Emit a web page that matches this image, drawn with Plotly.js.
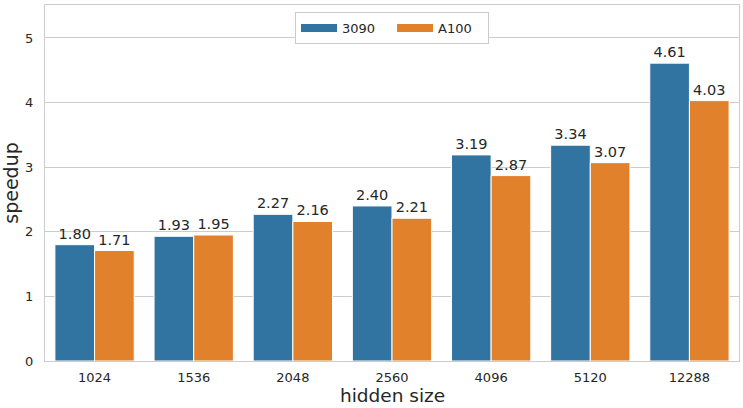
<!DOCTYPE html>
<html><head><meta charset="utf-8">
<script src="https://cdn.plot.ly/plotly-3.0.1.min.js"></script>
<style>html,body{margin:0;padding:0;background:#fff}#chart{width:743px;height:408px}</style>
</head><body><div id="chart"></div>
<script>
const categories = ["1024","1536","2048","2560","4096","5120","12288"];
const series3090 = [1.80,1.93,2.27,2.40,3.19,3.34,4.61];
const seriesA100 = [1.71,1.95,2.16,2.21,2.87,3.07,4.03];
const seriesNames = ["3090","A100"];
const colors = ["#3274a1","#e1812c"];
const xTitle = "hidden size";
const yTitle = "speedup";

const font = "DejaVu Sans, sans-serif";
const mk = (name, vals, color) => ({
  type: "bar", name: name, x: categories, y: vals, showlegend: false,
  text: vals.map(v => v.toFixed(2)), textposition: "outside",
  textfont: {family: font, size: 14.5, color: "#262626"},
  cliponaxis: false,
  marker: {color: color, line: {color: "#ffffff", width: 1}}
});
const legendProxy = (name, color) => ({
  type: "scatter", mode: "lines", name: name, x: [null], y: [null],
  line: {color: color, width: 8}, showlegend: true, hoverinfo: "skip"
});
const data = [mk(seriesNames[0], series3090, colors[0]), mk(seriesNames[1], seriesA100, colors[1]),
  legendProxy(seriesNames[0], colors[0]), legendProxy(seriesNames[1], colors[1])];
const layout = {
  width: 743, height: 408,
  margin: {l: 45, r: 4, t: 5, b: 47},
  paper_bgcolor: "#fff", plot_bgcolor: "#fff",
  font: {family: font, color: "#262626"},
  barmode: "group", bargap: 0.2, bargroupgap: 0,
  showlegend: true,
  legend: {orientation: "h", x: 0.5, xanchor: "center", y: 0.98, yanchor: "top",
    bordercolor: "#cccccc", borderwidth: 1, bgcolor: "#fff", entrywidth: 45, itemwidth: 36,
    font: {family: font, size: 13, color: "#262626"}, traceorder: "normal"},
  xaxis: {type: "category", showgrid: false, showline: true, linecolor: "#cccccc", linewidth: 1.2, mirror: true,
    ticks: "", ticklabelstandoff: 4, tickfont: {family: font, size: 13, color: "#262626"}},
  yaxis: {range: [0, 5.51], dtick: 1, showgrid: true, gridcolor: "#cccccc", gridwidth: 1,
    showline: true, linecolor: "#cccccc", linewidth: 1.2, mirror: true, zeroline: false,
    ticks: "", ticklabelstandoff: 8, tickfont: {family: font, size: 13, color: "#262626"},
    title: {text: yTitle, font: {family: font, size: 19, color: "#262626"}, standoff: 4}},
  annotations: [{text: xTitle, xref: "paper", yref: "paper", x: 0.5, y: 0, xanchor: "center", yanchor: "bottom",
    yshift: -46, borderpad: 0, showarrow: false, font: {family: font, size: 18.5, color: "#262626"}}]
};
Plotly.newPlot("chart", data, layout, {displayModeBar: false, staticPlot: true});
</script></body></html>
